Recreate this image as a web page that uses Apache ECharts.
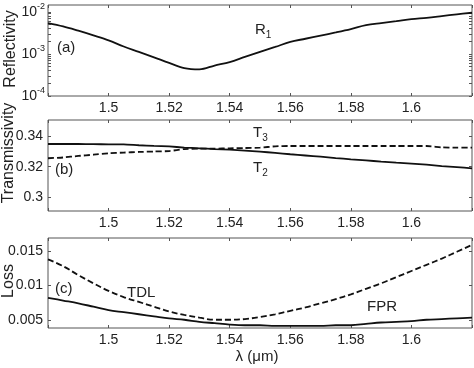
<!DOCTYPE html>
<html><head><meta charset="utf-8">
<script src="https://cdn.jsdelivr.net/npm/echarts@6/dist/echarts.min.js"></script>
<style>html,body{margin:0;padding:0;background:#fff}#c{width:474px;height:368px}</style>
</head><body><div id="c"></div>
<script>
const lambda = [1.480,1.485,1.490,1.495,1.500,1.505,1.510,1.515,1.520,1.525,1.530,1.535,1.540,1.545,1.550,1.555,1.560,1.565,1.570,1.575,1.580,1.585,1.590,1.595,1.600,1.605,1.610,1.615,1.620];
const R1 = [5.4e-3,4.5e-3,3.55e-3,2.75e-3,2.1e-3,1.5e-3,1.12e-3,8.3e-4,6.1e-4,4.6e-4,4.3e-4,5.3e-4,6.4e-4,8.5e-4,1.12e-3,1.46e-3,1.93e-3,2.29e-3,2.72e-3,3.24e-3,3.9e-3,4.8e-3,5.4e-3,6.0e-3,6.7e-3,7.2e-3,7.9e-3,8.7e-3,9.5e-3];
const T2 = [0.3348,0.3348,0.3348,0.3347,0.3346,0.3345,0.3340,0.3336,0.3332,0.3325,0.3320,0.3315,0.3311,0.3305,0.3298,0.3290,0.3281,0.3273,0.3265,0.3256,0.3248,0.3241,0.3233,0.3226,0.3220,0.3213,0.3204,0.3197,0.3189];
const T3 = [0.3255,0.3260,0.3270,0.3278,0.3287,0.3292,0.3296,0.3299,0.3302,0.3315,0.3318,0.3318,0.3320,0.3322,0.3324,0.3333,0.3335,0.3335,0.3335,0.3335,0.3335,0.3335,0.3335,0.3335,0.3335,0.3335,0.3326,0.3324,0.3324];
const TDL = [0.0138,0.0128,0.0115,0.0103,0.0092,0.0083,0.0076,0.0069,0.0062,0.0057,0.0053,0.0050,0.0050,0.0051,0.0054,0.0058,0.0063,0.0068,0.0074,0.0080,0.0087,0.0095,0.0103,0.0112,0.0121,0.0130,0.0139,0.0149,0.0159];
const FPR = [0.0082,0.0078,0.0074,0.0069,0.0064,0.0061,0.0058,0.0055,0.0052,0.0050,0.0047,0.0045,0.0043,0.0042,0.0042,0.0041,0.0041,0.0041,0.0041,0.0042,0.0042,0.0044,0.0046,0.0047,0.0048,0.0050,0.0051,0.0052,0.0053];
const xTickLabels = [1.5,1.52,1.54,1.56,1.58,1.6];
const rTicks = [1e-4,1e-3,1e-2];
const rMinorTicks = [2e-4,3e-4,4e-4,5e-4,6e-4,7e-4,8e-4,9e-4,2e-3,3e-3,4e-3,5e-3,6e-3,7e-3,8e-3,9e-3];
const tTicks = [0.3,0.32,0.34];
const lTicks = [0.005,0.01,0.015];

const pair = a => lambda.map((x,i)=>[x,a[i]]);
const TXT = '#222', AX = '#555';
const font = 'Liberation Sans, Arial, sans-serif';
const chart = echarts.init(document.getElementById('c'));

const grids = [
  {left:48, right:2, top:5, height:91},
  {left:48, right:2, top:120, height:91},
  {left:48, right:2, top:238, height:90}
].map(g=>Object.assign(g,{show:true,borderColor:AX,borderWidth:1,backgroundColor:'transparent'}));

const xAxes = [];
for (let i=0;i<3;i++){
  for (const pos of ['bottom','top']){
    xAxes.push({gridIndex:i,type:'value',position:pos,min:1.48,max:1.62,interval:0.02,
      axisLine:{show:false},splitLine:{show:false},
      axisTick:{show:true,inside:true,length:3,lineStyle:{color:AX}},
      axisLabel:{show:pos==='bottom',customValues:xTickLabels,margin:5,color:TXT,fontSize:14,fontFamily:font,
        formatter:v=>String(+v.toFixed(2))}});
  }
}
const yCommon = {axisLine:{show:false},splitLine:{show:false}};
const yAxes = [];
for (const pos of ['left','right']){
  yAxes.push(Object.assign({gridIndex:0,type:'log',logBase:10,position:pos,min:1e-4,max:0.0145,
    axisTick:{show:true,inside:true,length:3,customValues:rTicks.concat(rMinorTicks),lineStyle:{color:AX}},
    axisLabel:{show:pos==='left',customValues:rTicks,margin:3,color:TXT,fontFamily:font,
      formatter:v=>'{b|10}{s|'+Math.round(Math.log10(v))+'}',
      rich:{b:{fontSize:14,fontFamily:font,color:TXT},s:{fontSize:9,fontFamily:font,color:TXT,padding:[0,0,10,0]}}}},yCommon));
}
for (const pos of ['left','right']){
  yAxes.push(Object.assign({gridIndex:1,type:'value',position:pos,min:0.291,max:0.3505,
    axisTick:{show:true,inside:true,length:3,customValues:tTicks,lineStyle:{color:AX}},
    axisLabel:{show:pos==='left',customValues:tTicks,margin:5,color:TXT,fontSize:14,fontFamily:font,
      formatter:v=>String(+v.toFixed(2))}},yCommon));
}
for (const pos of ['left','right']){
  yAxes.push(Object.assign({gridIndex:2,type:'value',position:pos,min:0.0038,max:0.0169,
    axisTick:{show:true,inside:true,length:3,customValues:lTicks,lineStyle:{color:AX}},
    axisLabel:{show:pos==='left',customValues:lTicks,margin:5,color:TXT,fontSize:14,fontFamily:font,
      formatter:v=>String(+v.toFixed(3))}},yCommon));
}

const line = (name,data,xi,yi,dashed,smooth)=>({name,type:'line',xAxisIndex:xi,yAxisIndex:yi,data:pair(data),
  showSymbol:false,symbol:'none',smooth:smooth||false,animation:false,
  lineStyle:{color:'#111',width:1.8,type:dashed?[6,3]:'solid'}});

const txt = (text,x,y,opts={})=>({type:'text',x,y,rotation:opts.rot||0,z:10,
  style:Object.assign({text,fill:TXT,font:(opts.size||15)+'px '+font,
    align:opts.align||'left',verticalAlign:'middle'},opts.style||{})});
const subRich = {n:{fontSize:15,fontFamily:font,fill:TXT,color:TXT},s:{fontSize:10,fontFamily:font,fill:TXT,color:TXT,padding:[10,0,0,0]}};

chart.setOption({
  animation:false,
  grid:grids, xAxis:xAxes, yAxis:yAxes,
  series:[
    line('R1',R1,0,0,false,0.35),
    line('T2',T2,2,2,false,0.2),
    line('T3',T3,2,2,true,0.2),
    line('FPR',FPR,4,4,false,0.35),
    line('TDL',TDL,4,4,true,0.35)
  ],
  graphic:[
    txt('Reflectivity',11,49,{rot:Math.PI/2,align:'center',size:16}),
    txt('Transmissivity',9,153,{rot:Math.PI/2,align:'center',size:16}),
    txt('Loss',9,281,{rot:Math.PI/2,align:'center',size:16}),
    txt('(a)',57,48),
    txt('(b)',55,170),
    txt('(c)',55,289),
    txt('{n|R}{s|1}',255,30,{style:{rich:subRich}}),
    txt('{n|T}{s|3}',253,133,{style:{rich:subRich}}),
    txt('{n|T}{s|2}',253,168,{style:{rich:subRich}}),
    txt('TDL',127,293),
    txt('FPR',367,307),
    txt('λ (μm)',257,357,{align:'center'})
  ]
});
</script></body></html>
